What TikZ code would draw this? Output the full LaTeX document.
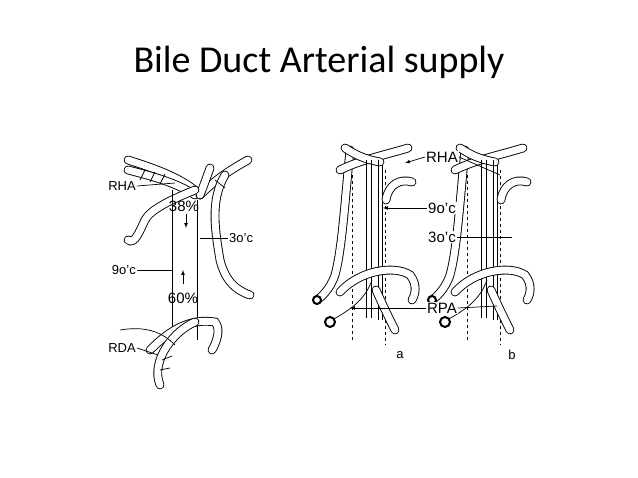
\documentclass[tikz,border=0pt]{standalone}
\usepackage{fontspec}
\setmainfont{Carlito}
\newfontfamily\lab{Liberation Sans}
\begin{document}
\begin{tikzpicture}[x=1pt,y=-1pt,
  vessel/.style={draw=black,line width=0.9pt,double=white,double distance=7pt,line cap=round},
  thin/.style={draw=black,line width=0.7pt},
  lbl/.style={font=\lab\fontsize{13}{13}\selectfont,inner sep=1pt,fill=white},
  ring/.style={draw=black,line width=2pt,fill=white}]
\useasboundingbox (0,0) rectangle (638,478);
\node[font=\fontsize{38}{38}\selectfont] (title) at (319,62) {Bile Duct Arterial supply};
% ---------- left figure ----------
\draw[vessel] (128,160) .. controls (160,170) and (185,180) .. (200,195);
\draw[vessel] (128,170) .. controls (160,178) and (180,185) .. (195,195);
\draw[vessel] (200,195) .. controls (215,180) and (230,170) .. (248,160);
\draw[vessel] (210,168) .. controls (205,182) and (202,190) .. (200,195);
\draw[vessel] (225,175) .. controls (210,200) and (215,230) .. (220,260) .. controls (225,280) and (235,290) .. (250,295);
\draw[vessel] (195,190) .. controls (170,200) and (150,210) .. (145,220) .. controls (140,230) and (135,245) .. (128,240);
\draw[thin] (172,190) -- (172,345) (197,200) -- (197,340);
\draw[vessel] (150,350) .. controls (170,330) and (190,318) .. (215,322) .. controls (222,330) and (215,345) .. (212,350);
\draw[vessel] (160,385) .. controls (150,360) and (175,330) .. (195,322);
\draw[thin] (120,330) .. controls (150,325) and (165,335) .. (175,345);
\draw[thin] (140,180) -- (145,170) (150,182) -- (155,172) (160,184) -- (165,174) (215,180) -- (225,188) (160,370) -- (170,368) (162,360) -- (172,356);
\draw[thin,-latex] (186,214) -- (186,228);
\draw[thin,-latex] (183,284) -- (183,270);
\node[font=\lab\fontsize{15}{15}\selectfont,inner sep=0pt] (p38) at (184,206) {38\%};
\node[font=\lab\fontsize{15}{15}\selectfont,inner sep=0pt] (p60) at (183,298) {60\%};
\node[lbl,anchor=east] (rha) at (137,186) {RHA};
\node[lbl,anchor=west] (t3) at (228,238) {3o’c};
\node[lbl,anchor=east] (n9) at (137,270) {9o’c};
\node[lbl,anchor=east] (rda) at (137,348) {RDA};
\coordinate (rhaE) at (175,183); \coordinate (t3E) at (200,238);
\coordinate (n9E) at (172,270); \coordinate (rdaE) at (158,355);
\draw[thin] (rha.east) -- (rhaE); \draw[thin] (t3.west) -- (t3E);
\draw[thin] (n9.east) -- (n9E); \draw[thin] (rda.east) -- (rdaE);
% ---------- right figures ----------
\foreach \dx/\nm in {0/a,115/b}{
 \begin{scope}[xshift=\dx]
 \draw[thin,dashed] (352,175) -- (352,340) (385,170) -- (385,345);
 \draw[vessel] (350,150) .. controls (345,200) and (342,250) .. (335,275) .. controls (330,290) and (320,298) .. (317,300);
 \draw[vessel] (340,170) .. controls (360,160) and (385,155) .. (408,148);
 \draw[vessel] (345,148) .. controls (360,158) and (370,160) .. (380,162);
 \draw[thin] (366,160) -- (366,318) (371,160) -- (371,318) (378,160) -- (378,320) (382,165) -- (382,320);
 \draw[vessel] (386,200) .. controls (388,185) and (400,178) .. (412,182);
 \draw[vessel] (340,292) .. controls (360,270) and (395,265) .. (410,275) .. controls (418,285) and (415,295) .. (412,300);
 \draw[vessel] (376,290) .. controls (385,310) and (390,320) .. (395,330);
 \draw[thin] (332,320) .. controls (350,310) and (365,300) .. (372,280);
 \draw[ring] (330,322) circle (5);
 \draw[ring] (317,300) circle (4);
 \end{scope}}
\node[lbl] (a) at (400,355) {a};
\node[lbl] (b) at (512,355) {b};
\node[lbl,font=\lab\fontsize{15}{15}\selectfont] (RHA) at (442,157) {RHA};
\node[lbl,font=\lab\fontsize{15}{15}\selectfont] (N9) at (442,208) {9o’c};
\node[lbl,font=\lab\fontsize{15}{15}\selectfont] (T3) at (442,237) {3o’c};
\node[lbl,font=\lab\fontsize{15}{15}\selectfont] (RPA) at (442,308) {RPA};
\coordinate (rhaA) at (405,163); \coordinate (rhaB) at (500,175);
\coordinate (n9A) at (383,208); \coordinate (t3B) at (512,237);
\coordinate (rpaA) at (350,308); \coordinate (rpaB) at (497,306);
\draw[thin,-latex] (RHA.west) -- (rhaA);
\draw[thin] (RHA.east) -- (rhaB);
\draw[thin,-latex] (N9.west) -- (n9A);
\draw[thin] (T3.east) -- (t3B);
\draw[thin,-latex] (RPA.west) -- (rpaA);
\draw[thin] (RPA.east) -- (rpaB);
\end{tikzpicture}
\end{document}
